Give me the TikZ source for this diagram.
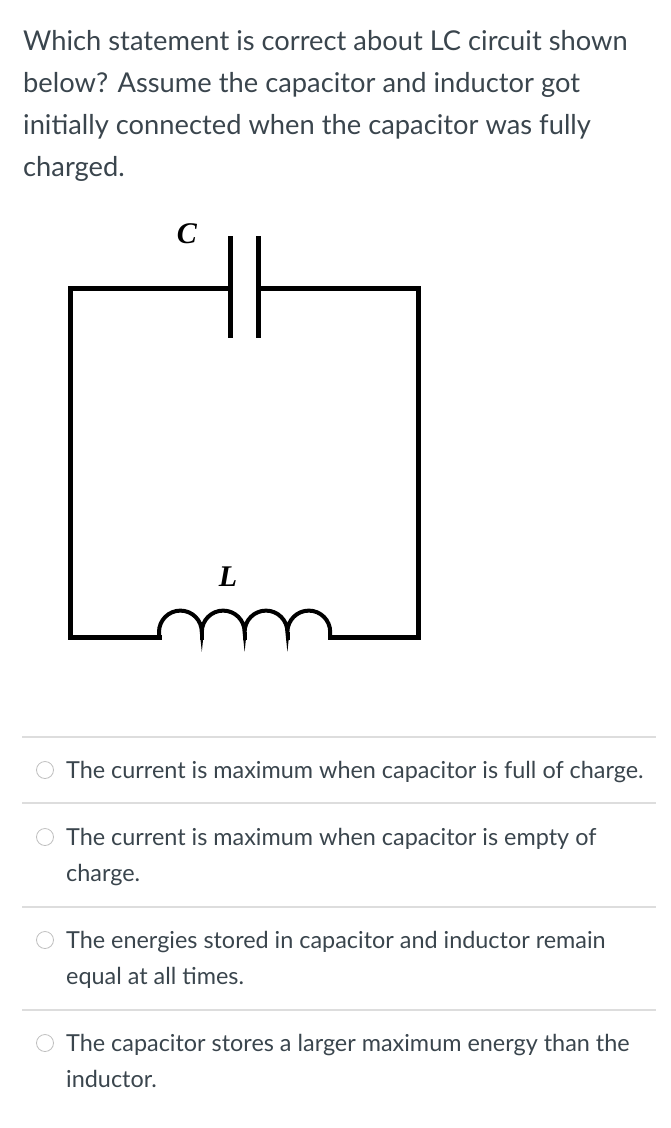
\documentclass[tikz,border=0pt]{standalone}
\usepackage{fontspec}
\setmainfont{Lato}
\definecolor{qtext}{HTML}{3A454D}
\definecolor{sep}{HTML}{DDDDDD}
\begin{document}
\begin{tikzpicture}[x=1pt,y=-1pt,
  q/.style={anchor=base west,inner sep=0,font=\fontsize{27.3}{30}\selectfont,text=qtext},
  opt/.style={anchor=base west,inner sep=0,font=\fontsize{23.4}{26}\selectfont,text=qtext},
  wire/.style={line width=5pt,line cap=rect},
  seprule/.style={draw=sep,line width=1.2pt},
  radio/.style={circle,draw=gray!50,line width=0.8pt,minimum size=17pt,inner sep=0}]
\useasboundingbox (0,0) rectangle (670,1128);
\node[q] (q1) at (23,50) {Which statement is correct about LC circuit shown};
\node[q] (q2) at (23,92) {below? Assume the capacitor and inductor got};
\node[q] (q3) at (23,134) {initially connected when the capacitor was fully};
\node[q] (q4) at (23,176) {charged.};
% circuit
\coordinate (tl) at (70,288); \coordinate (tr) at (418,288);
\coordinate (bl) at (70,637); \coordinate (br) at (418,637);
\coordinate (ca) at (230,288); \coordinate (cb) at (258,288);
\coordinate (la) at (159,637); \coordinate (lb) at (330,637);
\draw[wire] (ca) -- (tl) -- (bl) -- (la);
\draw[wire] (cb) -- (tr) -- (br) -- (lb);
\draw[line width=5pt] (230,236) -- (230,338);
\draw[line width=5pt] (258,236) -- (258,338);
\draw[line width=4pt] (la) -- (159,632) arc[start angle=180,end angle=360,radius=21.4]
  arc[start angle=180,end angle=360,radius=21.4]
  arc[start angle=180,end angle=360,radius=21.4]
  arc[start angle=180,end angle=360,radius=21.4] -- (lb);
\draw[line width=4pt] (202,632)--(202,640) (245,632)--(245,640) (288,632)--(288,640);
\node[font=\fontspec{Liberation Serif}\bfseries\itshape\fontsize{30}{34}\selectfont] (C) at (187,234) {C};
\node[font=\fontspec{Liberation Serif}\bfseries\itshape\fontsize{30}{34}\selectfont] (L) at (228,577) {L};
% options
\draw[seprule] (22,737) -- (656,737);
\draw[seprule] (22,803) -- (656,803);
\draw[seprule] (22,907) -- (656,907);
\draw[seprule] (22,1010) -- (656,1010);
\node[radio] (r1) at (45,770) {};
\node[radio] (r2) at (45,837) {};
\node[radio] (r3) at (45,940) {};
\node[radio] (r4) at (45,1043) {};
\node[opt] (o1) at (66,778) {The current is maximum when capacitor is full of charge.};
\node[opt] (o2a) at (66,845) {The current is maximum when capacitor is empty of};
\node[opt] (o2b) at (66,881) {charge.};
\node[opt] (o3a) at (66,948) {The energies stored in capacitor and inductor remain};
\node[opt] (o3b) at (66,984) {equal at all times.};
\node[opt] (o4a) at (66,1051) {The capacitor stores a larger maximum energy than the};
\node[opt] (o4b) at (66,1087) {inductor.};
\end{tikzpicture}
\end{document}
